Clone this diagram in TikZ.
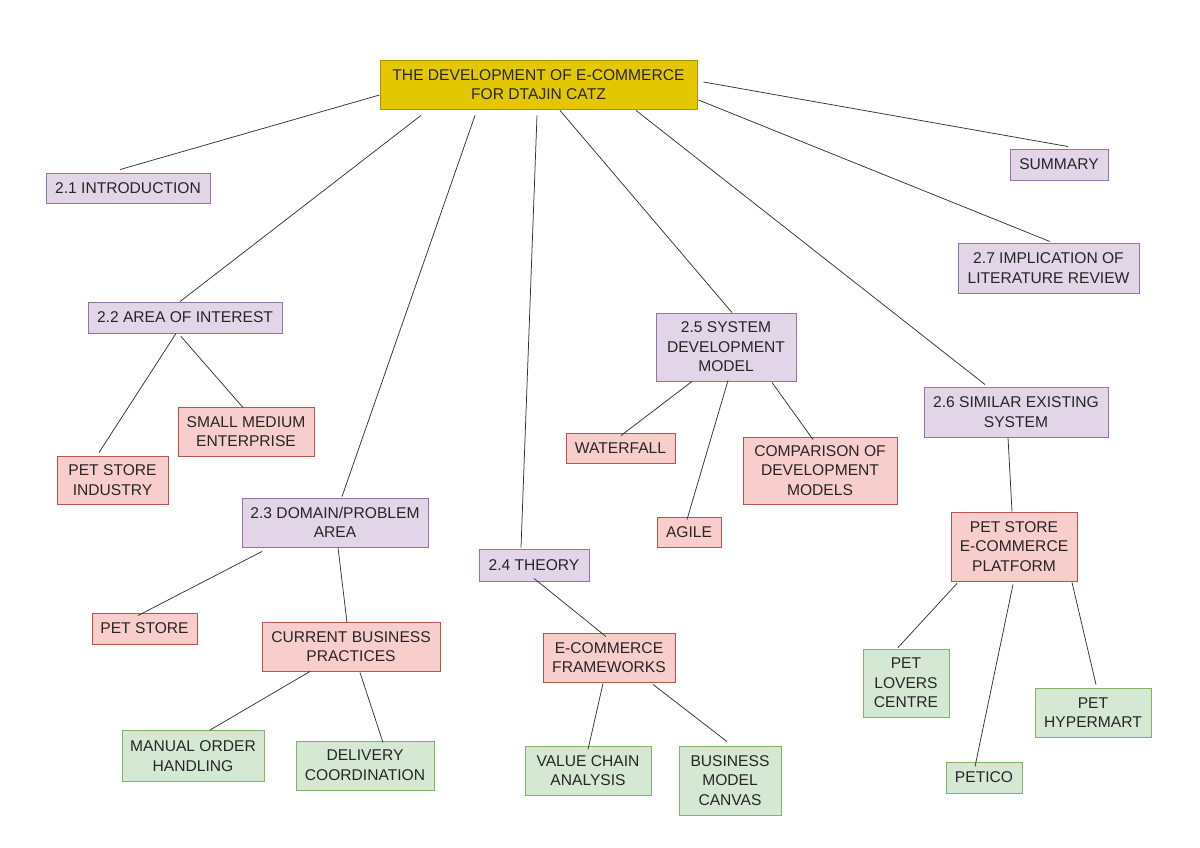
\documentclass[tikz,border=0pt]{standalone}
\usepackage{fontspec}
\setmainfont{Liberation Sans}
\usepackage{tikz}

\definecolor{rootfill}{HTML}{E3C800}
\definecolor{rootline}{HTML}{B09500}
\definecolor{purpfill}{HTML}{E1D5E7}
\definecolor{purpline}{HTML}{9673A6}
\definecolor{redfill}{HTML}{F8CECC}
\definecolor{redline}{HTML}{B85450}
\definecolor{greenfill}{HTML}{D5E8D4}
\definecolor{greenline}{HTML}{82B366}

\begin{document}
\begin{tikzpicture}[x=1pt, y=-1pt,
    box/.style={draw, line width=0.9pt, inner sep=1pt, align=center, text=black!85,
        font=\fontsize{15.6}{19.6}\selectfont},
    topic/.style={box, fill=rootfill, draw=rootline},
    chapter/.style={box, fill=purpfill, draw=purpline},
    subtopic/.style={box, fill=redfill, draw=redline},
    example/.style={box, fill=greenfill, draw=greenline},
    link/.style={line width=0.75pt, black!80}]
    \useasboundingbox (0,0) rectangle (1200,848);

    % main topic
    \node[topic, minimum width=317, minimum height=49] (root) at (538.5,84.5) {THE DEVELOPMENT OF E-COMMERCE\\FOR DTAJIN CATZ};

    % chapters
    \node[chapter, minimum width=164, minimum height=30] (intro) at (128,188) {2.1 INTRODUCTION};
    \node[chapter, minimum width=194, minimum height=31] (area) at (185,317.5) {2.2 AREA OF INTEREST};
    \node[chapter, minimum width=186, minimum height=49] (domain) at (335,522.5) {2.3 DOMAIN/PROBLEM\\AREA};
    \node[chapter, minimum width=110, minimum height=32] (theory) at (534,565) {2.4 THEORY};
    \node[chapter, minimum width=140, minimum height=68] (sysdev) at (726,347) {2.5 SYSTEM\\DEVELOPMENT\\MODEL};
    \node[chapter, minimum width=184, minimum height=50] (similar) at (1016,412) {2.6 SIMILAR EXISTING\\SYSTEM};
    \node[chapter, minimum width=181, minimum height=50] (implic) at (1048.5,268) {2.7 IMPLICATION OF\\LITERATURE REVIEW};
    \node[chapter, minimum width=98, minimum height=31] (summary) at (1059,164.5) {SUMMARY};

    % sub topics
    \node[subtopic, minimum width=136, minimum height=49] (sme) at (246,431.5) {SMALL MEDIUM\\ENTERPRISE};
    \node[subtopic, minimum width=111, minimum height=48] (industry) at (112.5,480) {PET STORE\\INDUSTRY};
    \node[subtopic, minimum width=105, minimum height=31] (petstore) at (144.5,628.5) {PET STORE};
    \node[subtopic, minimum width=178, minimum height=49] (practices) at (351,646.5) {CURRENT BUSINESS\\PRACTICES};
    \node[subtopic, minimum width=132, minimum height=49] (frameworks) at (609,657.5) {E-COMMERCE\\FRAMEWORKS};
    \node[subtopic, minimum width=109, minimum height=30] (waterfall) at (620.5,448) {WATERFALL};
    \node[subtopic, minimum width=64, minimum height=30] (agile) at (689,532) {AGILE};
    \node[subtopic, minimum width=154, minimum height=67] (compare) at (820,470.5) {COMPARISON OF\\DEVELOPMENT\\MODELS};
    \node[subtopic, minimum width=126, minimum height=69] (platform) at (1014,546.5) {PET STORE\\E-COMMERCE\\PLATFORM};

    % examples
    \node[example, minimum width=142, minimum height=51] (manual) at (193,756) {MANUAL ORDER\\HANDLING};
    \node[example, minimum width=138, minimum height=49] (delivery) at (365,765.5) {DELIVERY\\COORDINATION};
    \node[example, minimum width=126, minimum height=49] (valuechain) at (588,770.5) {VALUE CHAIN\\ANALYSIS};
    \node[example, minimum width=102, minimum height=69] (canvas) at (730,780.5) {BUSINESS\\MODEL\\CANVAS};
    \node[example, minimum width=86, minimum height=68] (lovers) at (906,683) {PET\\LOVERS\\CENTRE};
    \node[example, minimum width=116, minimum height=49] (hypermart) at (1093,712.5) {PET\\HYPERMART};
    \node[example, minimum width=76, minimum height=31] (petico) at (984,777.5) {PETICO};

    % links from the main topic
    \draw[link] ([yshift=-10.5pt]root.west) -- ([xshift=-8pt, yshift=3pt]intro.north);
    \draw[link] ([xshift=-117.5pt, yshift=-6pt]root.south) -- ([xshift=-5pt]area.north);
    \draw[link] ([xshift=-63.5pt, yshift=-6pt]root.south) -- ([xshift=7pt, yshift=1pt]domain.north);
    \draw[link] ([xshift=-1.5pt, yshift=-6pt]root.south) -- ([xshift=-13pt, yshift=1pt]theory.north);
    \draw[link] ([xshift=21.5pt, yshift=-1pt]root.south) -- ([xshift=6pt]sysdev.north);
    \draw[link] ([xshift=97.5pt, yshift=-1pt]root.south) -- ([xshift=-31pt, yshift=2pt]similar.north);
    \draw[link] ([xshift=1pt, yshift=-15.5pt]root.east) -- ([xshift=1.5pt, yshift=1pt]implic.north);
    \draw[link] ([xshift=6pt, yshift=2.5pt]root.east) -- ([xshift=9pt, yshift=2pt]summary.north);

    % links below the chapters
    \draw[link] ([xshift=-9pt]area.south) -- ([xshift=-13.5pt, yshift=3pt]industry.north);
    \draw[link] ([xshift=-4pt, yshift=-3pt]area.south) -- ([xshift=-3pt, yshift=-1pt]sme.north);
    \draw[link] ([xshift=-73pt, yshift=-4pt]domain.south) -- ([xshift=-6.5pt, yshift=-3pt]petstore.north);
    \draw[link] ([xshift=3pt]domain.south) -- ([xshift=-4pt, yshift=-1pt]practices.north);
    \draw[link] ([xshift=-41pt]practices.south) -- ([xshift=17pt]manual.north);
    \draw[link] ([xshift=9pt, yshift=-1pt]practices.south) -- ([xshift=18pt, yshift=-2pt]delivery.north);
    \draw[link] ([yshift=3pt]theory.south) -- ([xshift=-3pt, yshift=-4pt]frameworks.north);
    \draw[link] ([xshift=-6pt, yshift=-1pt]frameworks.south) -- ([yshift=-4pt]valuechain.north);
    \draw[link] ([xshift=44pt, yshift=-2pt]frameworks.south) -- ([xshift=-3pt, yshift=4pt]canvas.north);
    \draw[link] ([xshift=-34pt]sysdev.south) -- ([xshift=0.5pt, yshift=-3pt]waterfall.north);
    \draw[link] ([xshift=2pt, yshift=1pt]sysdev.south) -- ([xshift=-2pt, yshift=-3pt]agile.north);
    \draw[link] ([xshift=46pt, yshift=-1pt]sysdev.south) -- ([xshift=-7pt, yshift=-3pt]compare.north);
    \draw[link] ([xshift=-8pt]similar.south) -- ([xshift=-2pt]platform.north);
    \draw[link] ([xshift=-57pt, yshift=-2pt]platform.south) -- ([xshift=-8pt, yshift=1pt]lovers.north);
    \draw[link] ([xshift=-1pt, yshift=-3pt]platform.south) -- ([xshift=-9pt, yshift=-5pt]petico.north);
    \draw[link] ([xshift=58pt, yshift=-1pt]platform.south) -- ([xshift=3pt, yshift=3pt]hypermart.north);

\end{tikzpicture}
\end{document}
